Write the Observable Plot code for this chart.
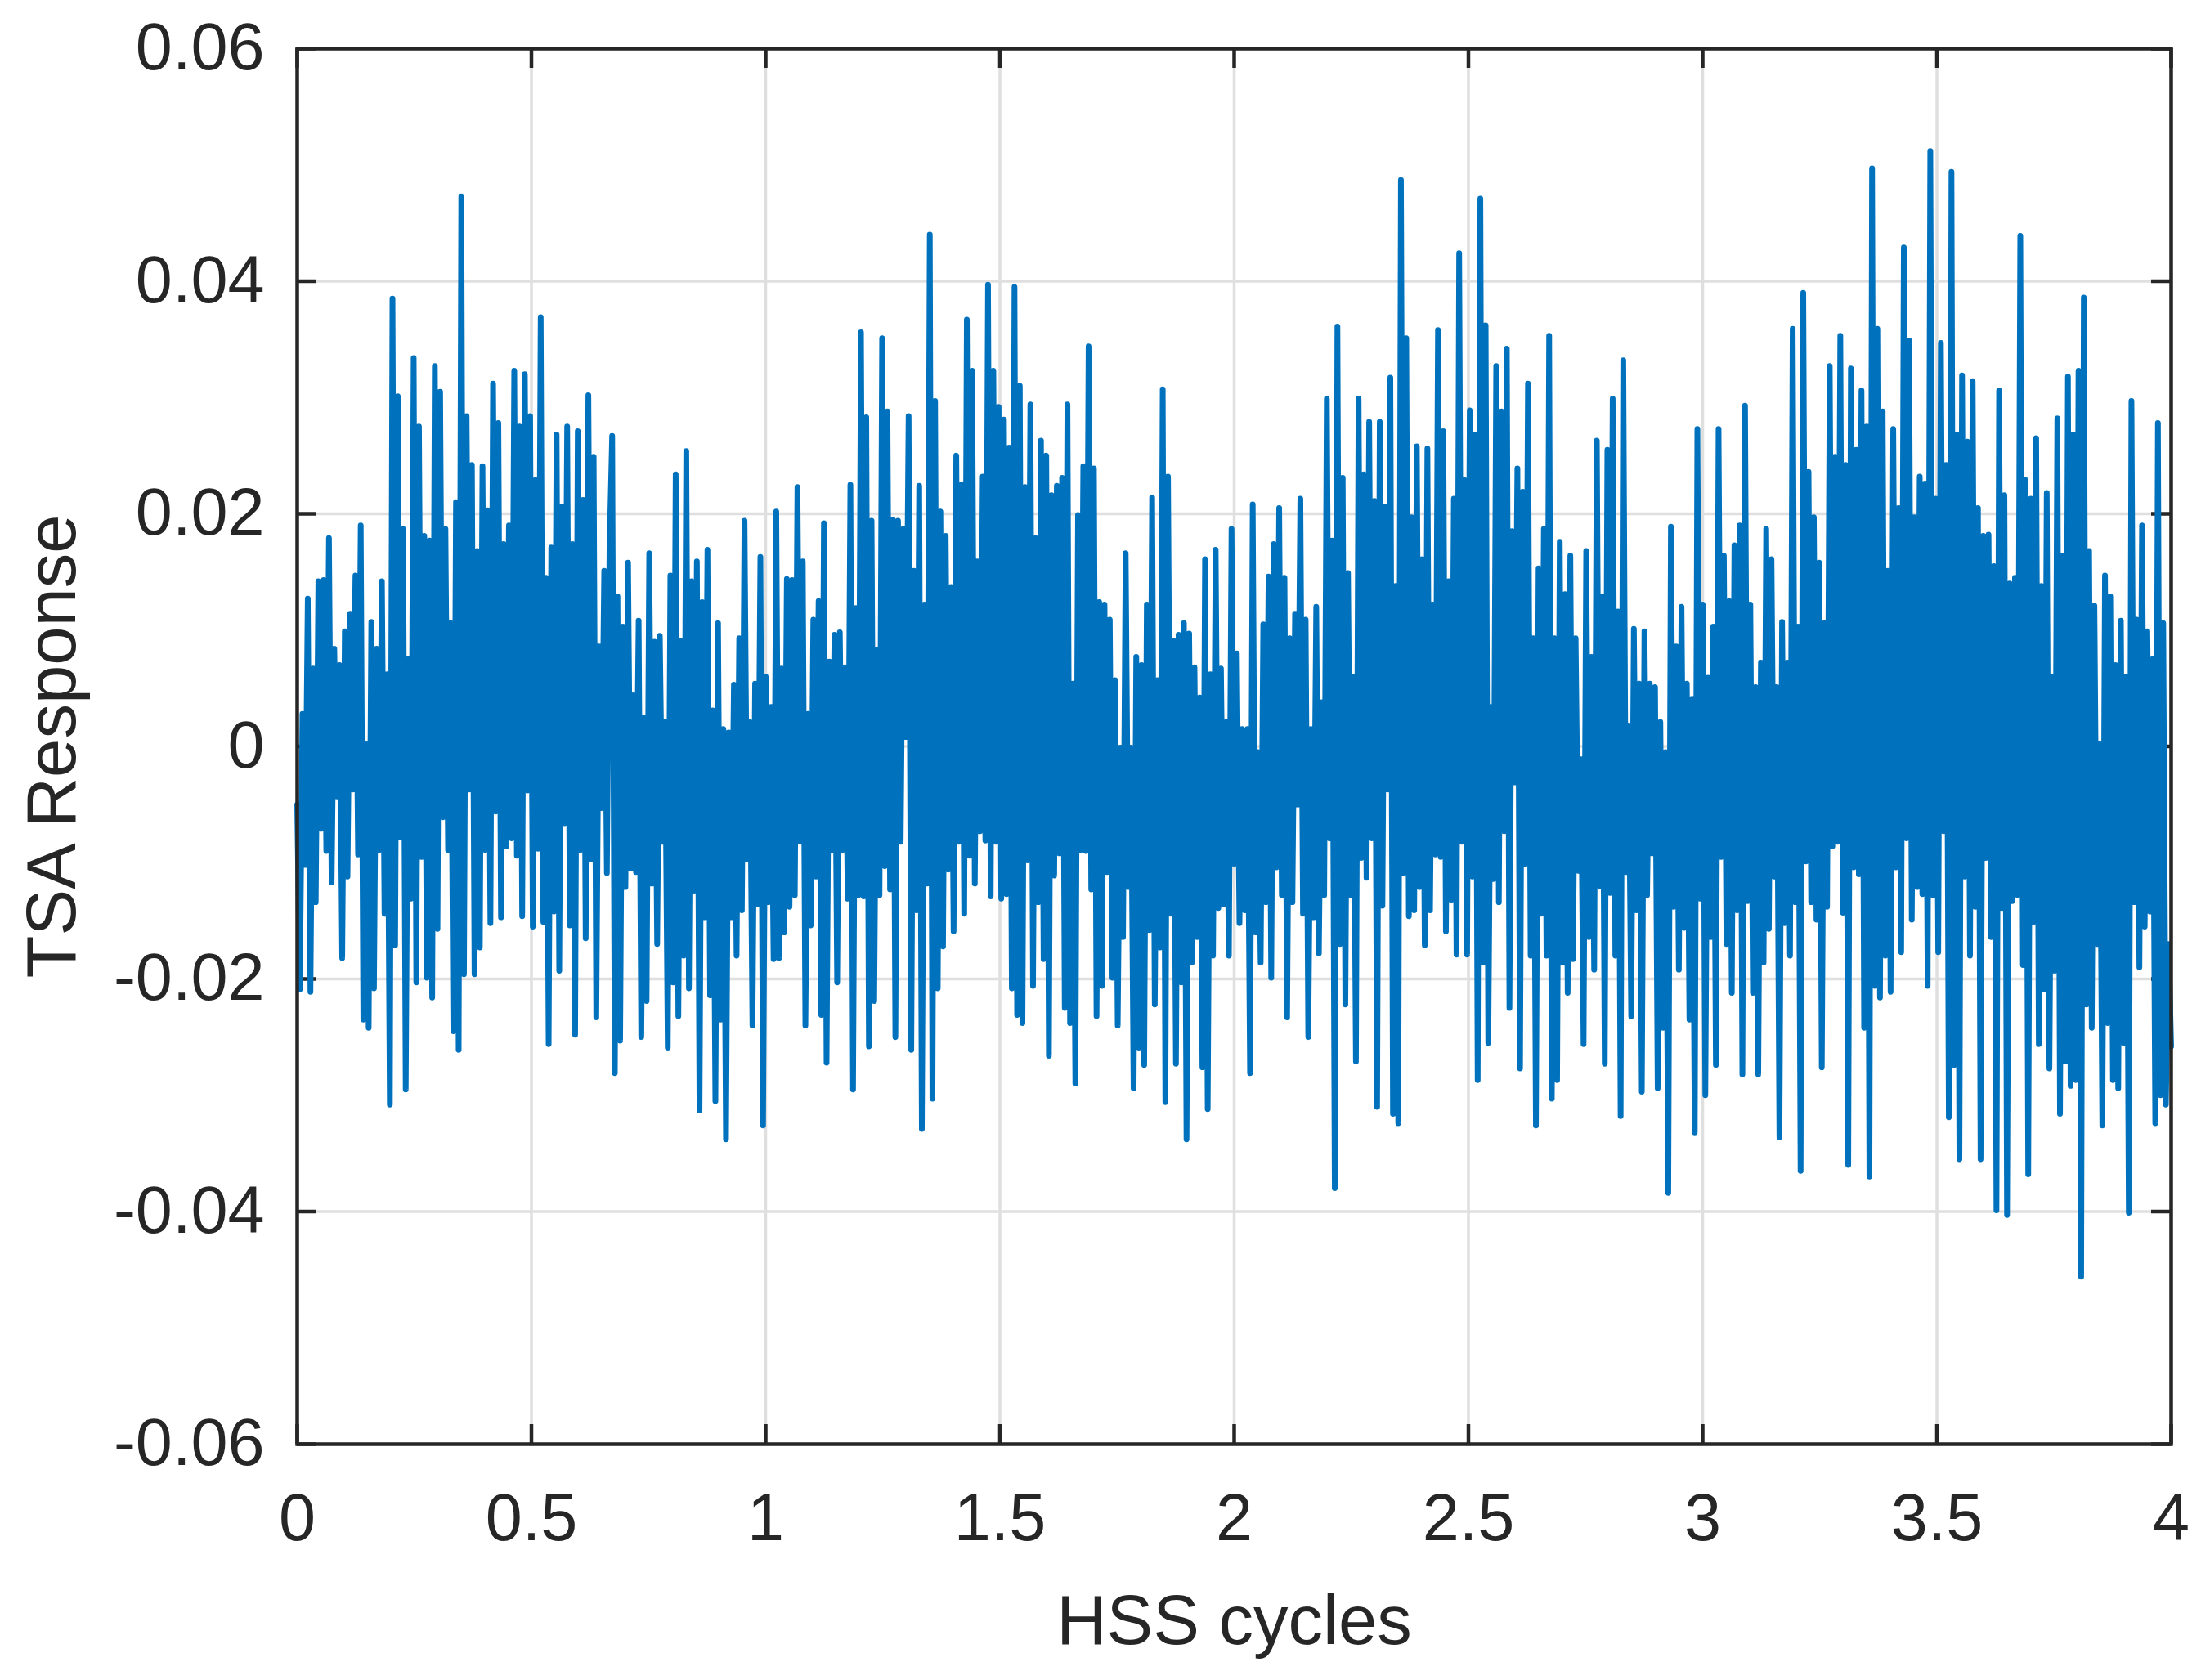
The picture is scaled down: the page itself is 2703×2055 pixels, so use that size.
<!DOCTYPE html>
<html>
<head>
<meta charset="utf-8">
<script src="https://cdn.jsdelivr.net/npm/d3@7"></script>
<script src="https://cdn.jsdelivr.net/npm/@observablehq/plot@0.6"></script>
<style>
  html, body { margin: 0; padding: 0; background: #fff; }
  svg { display: block; }
</style>
</head>
<body>
<div id="chart"></div>
<script>
// ---- tick labels / axis titles ----
const xTicks = [0, 0.5, 1, 1.5, 2, 2.5, 3, 3.5, 4];
const yTicks = [-0.06, -0.04, -0.02, 0, 0.02, 0.04, 0.06];
const xLabel = "HSS cycles";
const yLabel = "TSA Response";
const cycleSpan = [0, 4];

// ---- TSA response (segments of ~0.67 cycle) ----
const tsaSeg1 = [-.005, -.0209, .0028, -.0102, .0127, -.0211, .0067, -.0134, .0142, -.0071, .0143, -.009, .0179, -.0117, .0084, -.0043, .007, -.0182, .0099, -.0112, .0114, -.0037, .0147, -.0093, .019, -.0235, .0002, -.0242, .0107, -.0208, .0084, -.0089, .0142, -.0144, .0062, -.0308, .0385, -.0171, .0301, -.0078, .0187, -.0295, .0075, -.0131, .0334, -.0203, .0275, -.0095, .0181, -.0199, .0177, -.0216, .0327, -.0157, .0305, -.0061, .0187, -.0089, .0106, -.0245, .021, -.0261, .0473, -.0196, .0284, -.0037, .0242, -.0196, .0168, -.0173, .0241, -.0089, .0203, -.0152, .0312, -.0056, .0278, -.0147, .0174, -.0086, .019, -.0079, .0323, -.0094, .0275, -.0146, .032, -.0038, .0284, -.0155, .0229, -.0088, .0369, -.0151, .0145, -.0256, .0171, -.0142, .0268, -.0193, .0206, -.0066, .0275, -.0154, .0174, -.0248, .0271, -.0089, .0212, -.0165, .0302, -.0097, .0249, -.0233, .0086, -.0053, .0151, -.0109, .0171];
const tsaSeg2 = [.0267, -.0281, .0129, -.0253, .0103, -.0121, .0158, -.0105, .0044, -.0108, .0108, -.025, .0025, -.0219, .0166, -.0118, .009, -.017, .0095, -.0082, .0021, -.0259, .0147, -.0203, .0234, -.0232, .0091, -.018, .0254, -.0208, .0142, -.0124, .0159, -.0313, .0124, -.0147, .0169, -.0214, .0031, -.0305, .0106, -.0235, .0015, -.0338, .0012, -.0147, .0053, -.018, .0093, -.0141, .0194, -.0097, .0021, -.024, .0054, -.0136, .0163, -.0326, .006, -.0134, .0034, -.0183, .0202, -.0182, .0067, -.016, .0144, -.0138, .0143, -.0128, .0223, -.0082, .0159, -.024, .0028, -.0154, .0109, -.0112, .0125, -.0231, .0192, -.0272, .0073, -.0089, .0096, -.0203, .0098, -.0089, .0068, -.0131, .0225, -.0295, .0119, -.0128, .0356, -.0129, .0283, -.0258, .0194, -.0219, .0083, -.0128, .0351, -.0103, .0288, -.0123, .0195, -.025, .0194, -.0082, .0187, .0008, .0284, -.0261, .0151, -.0141, .0224, -.0329, .0122, -.0118];
const tsaSeg3 = [.044, -.0303, .0297, -.0208, .0202, -.0172, .0181, -.0106, .0137, -.0159, .025, -.0082, .0225, -.0144, .0367, -.0094, .0323, -.0118, .0159, -.0073, .0232, -.0081, .0397, -.0129, .0323, -.0082, .0292, -.0131, .0281, -.0127, .0257, -.0208, .0395, -.0231, .031, -.0238, .0223, -.0098, .0294, -.0206, .0179, -.0134, .0263, -.0183, .025, -.0266, .0216, -.0111, .0224, -.0092, .0231, -.0225, .0294, -.0238, .0054, -.029, .0199, -.0089, .0241, -.009, .0344, -.0123, .0239, -.0232, .0124, -.0206, .0122, -.0108, .0109, -.0199, .0057, -.024, -.0001, -.0164, .0166, -.0121, -.0001, -.0294, .0077, -.0259, .007, -.0274, .0122, -.0158, .0214, -.0222, .0057, -.0173, .0307, -.0306, .0232, -.0144, .0091, -.0273, .0096, -.0203, .0106, -.0338, .0097, -.0186, .0068, -.0164, .0042, -.0276, .0161, -.0312, .0062, -.018, .0169, -.0139, .0067, -.0136, .0021, -.018, .0187, -.0101, .008, -.0152, .0015, -.0141];
const tsaSeg4 = [.0015, -.0281, .0208, -.016, -.0005, -.0186, .0105, -.0134, .0146, -.0199, .0174, -.0104, .0205, -.0128, .0145, -.0233, .0093, -.0134, .0114, -.005, .0213, -.0144, .0109, -.025, .0015, -.0147, .012, -.0178, .0038, -.0128, .0299, -.0079, .0177, -.038, .0361, -.017, .0231, -.0222, .0149, -.0128, .006, -.0271, .0299, -.0096, .0234, -.0113, .0279, -.0079, .0211, -.031, .0279, -.0137, .0206, -.0037, .0317, -.0316, .0138, -.0324, .0487, -.0109, .0351, -.0146, .0197, -.0141, .0258, -.0121, .0161, -.0171, .0256, -.0141, .0122, -.0093, .0358, -.0095, .0271, -.0159, .0142, -.0132, .0213, -.0179, .0424, -.0082, .0229, -.0179, .0289, -.0112, .0268, -.0287, .0471, -.0186, .0362, -.0255, .0034, -.0114, .0327, -.0134, .0288, -.0073, .0342, -.0225, .0185, -.0031, .0239, -.0277, .0219, -.0101, .0312, -.018, .0093, -.0326, .0153, -.0144, .0187, -.018, .0353, -.0303];
const tsaSeg5 = [.0093, -.0287, .0176, -.0186, .0131, -.0212, .0164, -.0183, .0093, -.0107, -.0011, -.0256, .0168, -.0164, .0077, -.0192, .0263, -.012, .0129, -.0273, .0255, -.0126, .0299, -.018, .0116, -.0318, .0332, -.0108, .0018, -.0232, .0101, -.0141, .0054, -.0297, .0099, -.0128, .0054, -.0092, .0051, -.0294, .0021, -.0242, -.0005, -.0384, .0189, -.0138, .0086, -.0192, .012, -.0156, .0054, -.0235, .0041, -.0332, .0273, -.0131, .0122, -.03, .0059, -.0164, .0103, -.0274, .0273, -.0095, .0164, -.017, .0125, -.0212, .0173, -.0141, .019, -.0282, .0293, -.0133, .0122, -.0212, .0051, -.0282, .0072, -.0186, .0187, -.0157, .0161, -.0112, .0051, -.0336, .0107, -.0152, .0072, -.018, .0359, -.0134, .0103, -.0365, .039, -.0099, .0236, -.0134, .0197, -.0149, .0158, -.0276, .0106, -.0138, .0327, -.0086, .0249, -.0082, .0353, -.0143, .0242, -.036, .0325, -.0104, .0255, -.011, .0306, -.0242, .0275, -.037, .0497];
const tsaSeg6 = [-.0206, .0359, -.0216, .0288, -.018, .0151, -.0211, .0273, -.0104, .0205, -.0177, .0429, -.0079, .0349, -.0149, .0197, -.0121, .0232, -.0127, .0226, -.0206, .0512, -.0128, .0213, -.0177, .0347, -.0073, .0242, -.0319, .0494, -.0274, .0268, -.0355, .0319, -.0112, .0262, -.018, .0314, -.0138, .0205, -.0355, .0181, -.0096, .0182, -.0164, .0155, -.0399, .0306, -.0139, .0216, -.0403, .014, -.0133, .0145, -.0128, .0439, -.0188, .0229, -.0368, .0213, -.0151, .0265, -.0256, .0138, -.0209, .0218, -.0277, .006, -.0193, .0282, -.0316, .0164, -.0271, .0318, -.0292, .0268, -.0287, .0323, -.0456, .0386, -.0222, .0168, -.0242, .0121, -.017, .0002, -.0326, .0147, -.0238, .0129, -.0287, .007, -.0294, .0108, -.0255, .006, -.0401, .0297, -.0134, .0109, -.019, .019, -.0155, .0099, -.0142, .0075, -.0324, .0278, -.03, .0106, -.0308, -.017, -.0258];

const tsaResponse = [].concat(tsaSeg1, tsaSeg2, tsaSeg3, tsaSeg4, tsaSeg5, tsaSeg6);
// evenly spaced samples over the 4 HSS cycles
const samples = tsaResponse.map((v, i) => ({
  cycle: cycleSpan[0] + (cycleSpan[1] - cycleSpan[0]) * i / (tsaResponse.length - 1),
  value: v
}));

// ---- layout ----
const W = 2703, H = 2055;
const mL = 363, mR = 48, mT = 59, mB = 289;
const innerW = W - mL - mR, innerH = H - mT - mB;
const tickLen = 24;
const ink = "#262626";
const gridColor = "#dfdfdf";
const lineColor = "#0072BD";
const fs = 81;
const titleFs = 85;

const chart = Plot.plot({
  width: W,
  height: H,
  marginLeft: mL,
  marginRight: mR,
  marginTop: mT,
  marginBottom: mB,
  style: {
    fontFamily: "'Liberation Sans', Arial, Helvetica, sans-serif",
    fontSize: fs + "px",
    color: ink,
    background: "#fff"
  },
  x: {domain: cycleSpan},
  y: {domain: [yTicks[0], yTicks[yTicks.length - 1]]},
  marks: [
    Plot.ruleX(xTicks, {stroke: gridColor, strokeWidth: 3.5}),
    Plot.ruleY(yTicks, {stroke: gridColor, strokeWidth: 3.5}),
    Plot.tickX(xTicks, {stroke: ink, strokeWidth: 4.5, insetTop: innerH - tickLen}),
    Plot.tickX(xTicks, {stroke: ink, strokeWidth: 4.5, insetBottom: innerH - tickLen}),
    Plot.tickY(yTicks, {stroke: ink, strokeWidth: 4.5, insetRight: innerW - tickLen}),
    Plot.tickY(yTicks, {stroke: ink, strokeWidth: 4.5, insetLeft: innerW - tickLen}),
    Plot.line(samples, {x: "cycle", y: "value", stroke: lineColor, strokeWidth: 7, strokeLinejoin: "round", strokeLinecap: "round"}),
    Plot.frame({stroke: ink, strokeWidth: 4.5}),
    Plot.axisX({ticks: xTicks, tickSize: 0, tickPadding: 60, tickFormat: d => String(d), fontSize: fs, fill: ink, label: null}),
    Plot.axisY({ticks: yTicks, tickSize: 0, tickPadding: 40, tickFormat: d => String(d), fontSize: fs, fill: ink, label: null}),
    Plot.text([xLabel], {text: d => d, frameAnchor: "bottom", dy: 244, lineAnchor: "bottom", textAnchor: "middle", fontSize: titleFs, fill: ink}),
    Plot.text([yLabel], {text: d => d, frameAnchor: "left", dx: -272, rotate: -90, lineAnchor: "bottom", textAnchor: "middle", fontSize: titleFs, fill: ink})
  ]
});
document.getElementById("chart").appendChild(chart);
</script>
</body>
</html>
